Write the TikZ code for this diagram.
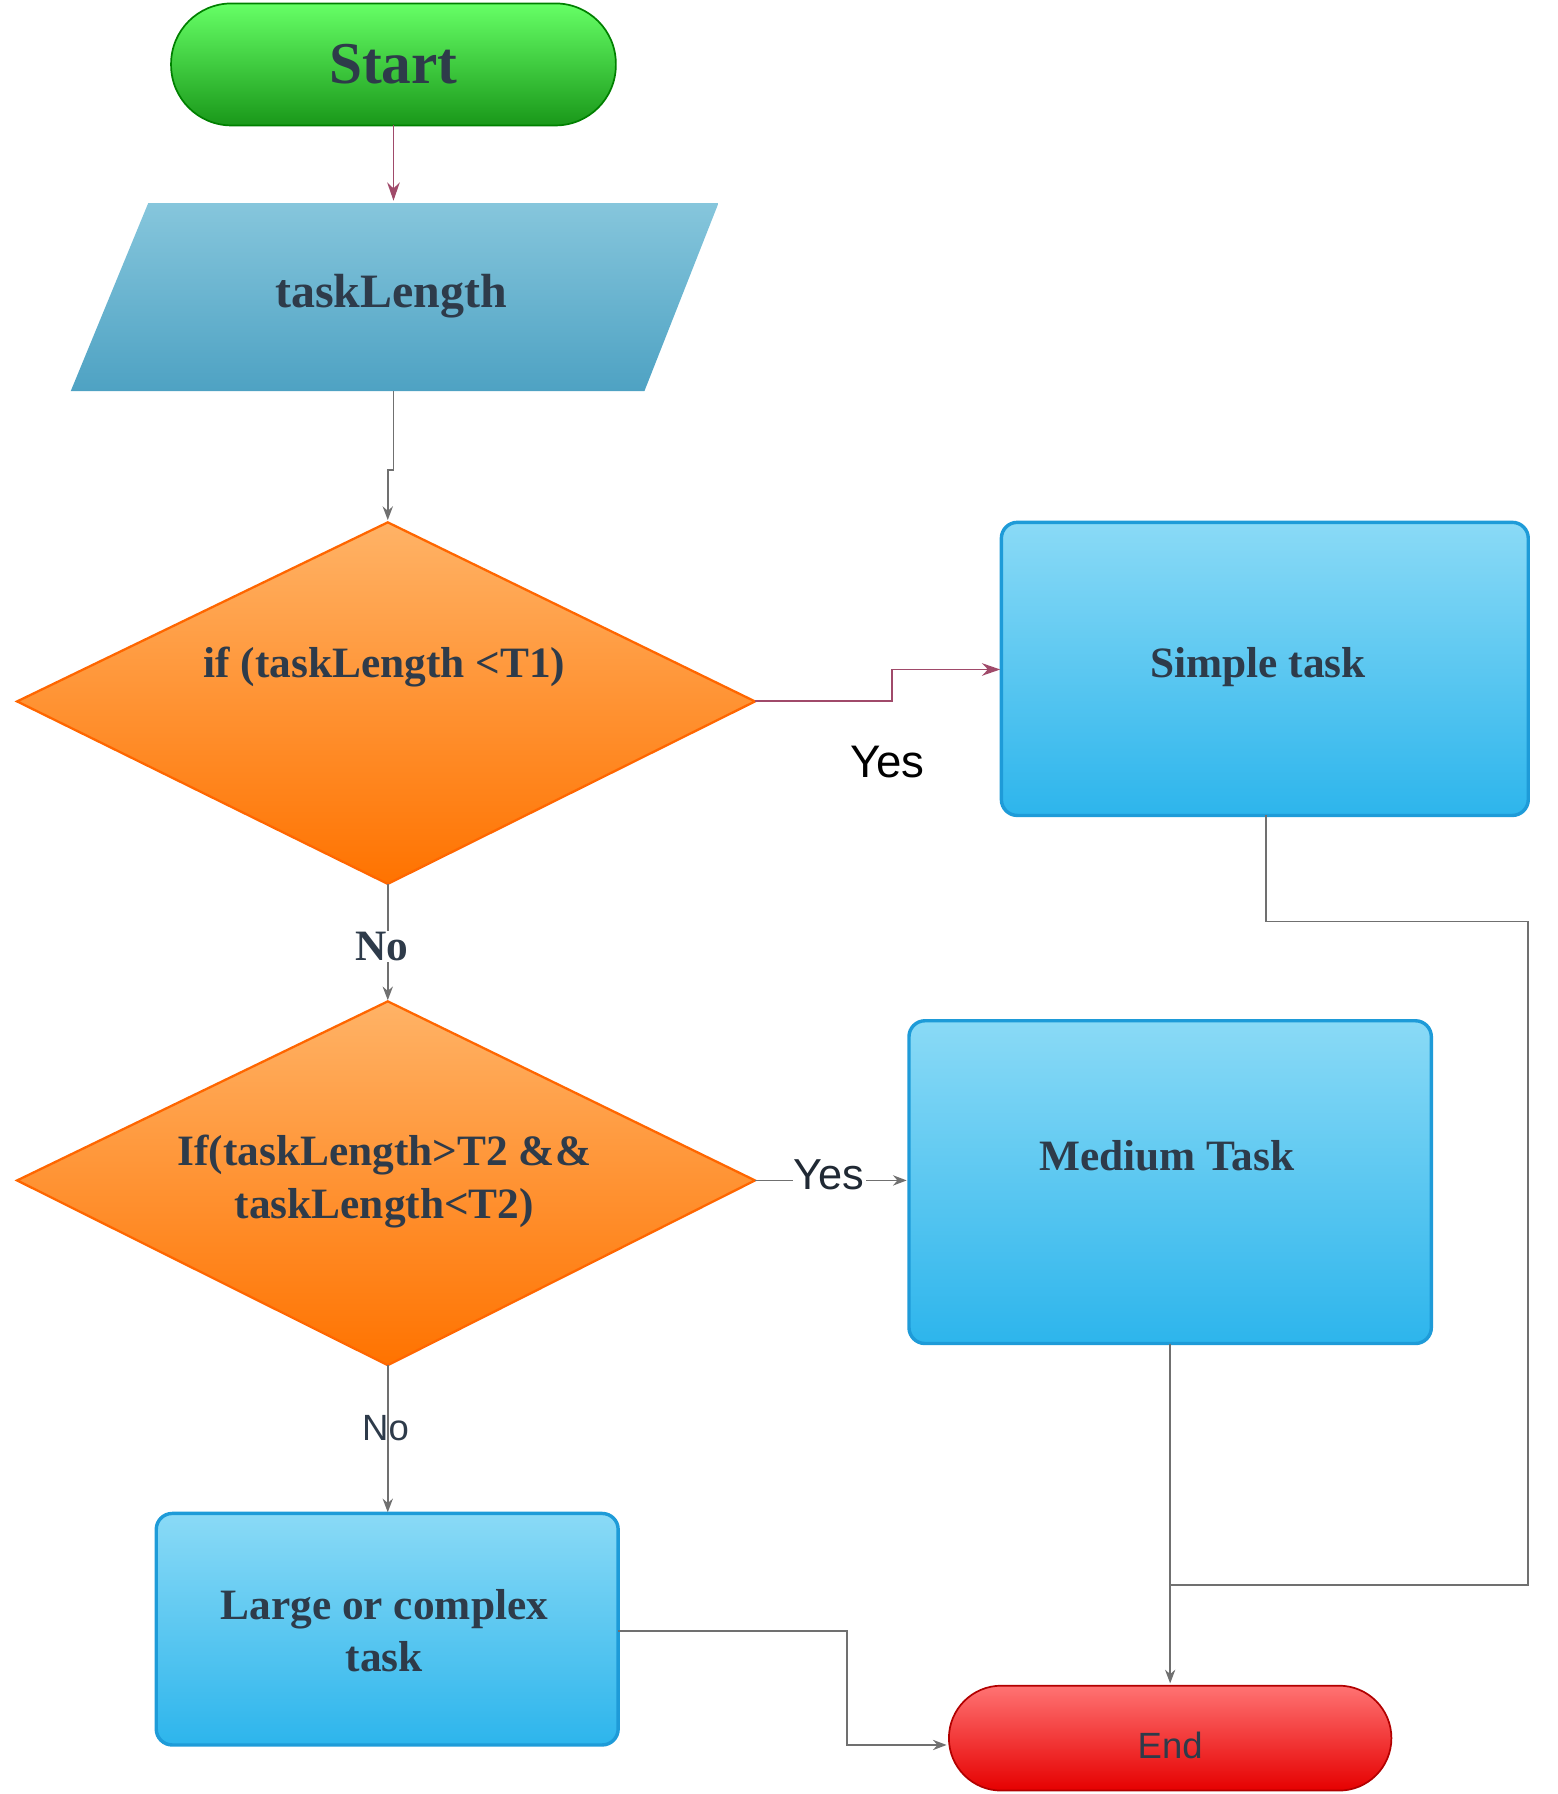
\documentclass[tikz,border=0pt]{standalone}
\usepackage{fontspec}
\setmainfont{Liberation Serif}
\newfontfamily\sansf{Liberation Sans}
\usetikzlibrary{shapes.geometric,arrows.meta}
\definecolor{txt}{HTML}{2E3B4A}
\definecolor{maroon}{HTML}{A04A6A}
\definecolor{gline}{HTML}{707070}
\definecolor{ptop}{HTML}{86C6DC}
\definecolor{pbot}{HTML}{4EA2C3}
\definecolor{btop}{HTML}{8ADAF6}
\definecolor{bbot}{HTML}{2DB5EC}
\definecolor{bdr}{HTML}{1E9BD8}
\begin{document}
\begin{tikzpicture}[x=1pt,y=-1pt,
  lbl/.style={font=\bfseries\fontsize{38}{46}\selectfont,text=txt,align=center},
  gar/.style={draw=gline,line width=1.6pt,-{Stealth[length=12pt,width=9pt]}},
  mar/.style={draw=maroon,line width=1.6pt,-{Stealth[length=16pt,width=11pt]}}]
\useasboundingbox (0,0) rectangle (1366,1573);
% Start
\shade[top color=green!60!white,bottom color=green!55!black!90,draw=green!50!black,line width=1.5pt,rounded corners=53pt] (150,3) rectangle (540,110);
\node[lbl,font=\bfseries\fontsize{52}{60}\selectfont] (start) at (345,56) {Start};
% taskLength parallelogram
\shade[top color=ptop,bottom color=pbot] (130,178) -- (630,178) -- (565,343) -- (62,343) -- cycle;
\node[lbl,font=\bfseries\fontsize{42}{48}\selectfont] (tl) at (343,260) {taskLength};
% diamonds
\shade[top color=orange!60!white,bottom color=orange!90!red,draw=orange!80!red,line width=2pt] (15,615) -- (340,458) -- (662,615) -- (340,775) -- cycle;
\node[lbl] (d1) at (337,585) {if (taskLength <T1)};
\shade[top color=orange!60!white,bottom color=orange!90!red,draw=orange!80!red,line width=2pt] (15,1035) -- (340,878) -- (662,1035) -- (340,1197) -- cycle;
\node[lbl] (d2) at (337,1036) {If(taskLength>T2 \&\&\\taskLength<T2)};
% boxes
\shade[top color=btop,bottom color=bbot,draw=bdr,line width=3pt,rounded corners=14pt] (878,458) rectangle (1340,715);
\node[lbl] (s) at (1103,585) {Simple task};
\shade[top color=btop,bottom color=bbot,draw=bdr,line width=3pt,rounded corners=14pt] (797,895) rectangle (1255,1178);
\node[lbl] (m) at (1023,1013) {Medium Task};
\shade[top color=btop,bottom color=bbot,draw=bdr,line width=3pt,rounded corners=14pt] (137,1327) rectangle (542,1530);
\node[lbl] (l) at (337,1430) {Large or complex\\task};
% End
\shade[top color=red!55!white,bottom color=red!90!black,draw=red!70!black,line width=1.5pt,rounded corners=46pt] (832,1478) rectangle (1220,1570);
\node[font=\sansf\fontsize{32}{38}\selectfont,text=txt] (end) at (1026,1530) {End};
% connectors
\coordinate (a1) at (345,110); \coordinate (a2) at (345,176);
\draw[mar] (a1) -- (a2);
\coordinate (b1) at (345,343); \coordinate (b2) at (340,456);
\draw[gar] (b1) -- (345,412) -- (340,412) -- (b2);
\coordinate (c1) at (662,615); \coordinate (c2) at (877,587);
\draw[mar] (c1) -- (782,615) -- (782,587) -- (c2);
\node[font=\sansf\fontsize{40}{46}\selectfont] (y1) at (778,668) {Yes};
\coordinate (e1) at (340,775); \coordinate (e2) at (340,877);
\draw[gar] (e1) -- (e2);
\node[lbl,fill=white,inner sep=1pt] (n1) at (335,830) {No};
\coordinate (f1) at (662,1035); \coordinate (f2) at (795,1035);
\draw[gar] (f1) -- (f2);
\node[font=\sansf\fontsize{38}{44}\selectfont,text=txt!70!black,fill=white,inner sep=1pt] (y2) at (727,1030) {Yes};
\coordinate (g1) at (340,1197); \coordinate (g2) at (340,1326);
\draw[gar] (g1) -- (g2);
\node[font=\sansf\fontsize{32}{38}\selectfont,text=txt] (n2) at (338,1252) {No};
\coordinate (h1) at (542,1430); \coordinate (h2) at (830,1530);
\draw[gar] (h1) -- (743,1430) -- (743,1530) -- (h2);
\coordinate (i1) at (1110,715); \coordinate (i2) at (1026,1390);
\draw[gline,line width=1.6pt] (i1) -- (1110,808) -- (1340,808) -- (1340,1390) -- (i2);
\coordinate (j1) at (1026,1178); \coordinate (j2) at (1026,1476);
\draw[gar] (j1) -- (j2);
\end{tikzpicture}
\end{document}
